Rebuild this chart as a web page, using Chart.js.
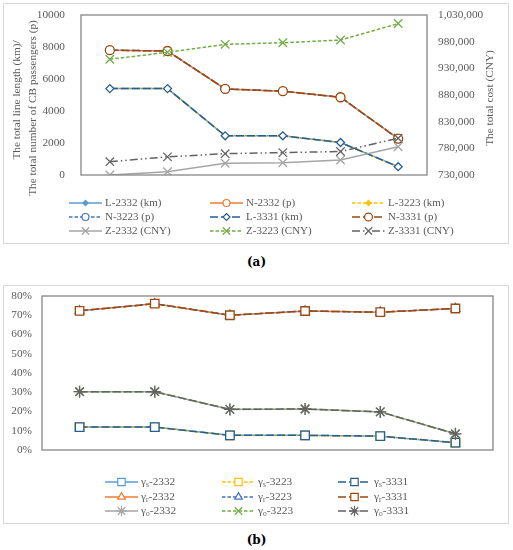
<!DOCTYPE html>
<html><head><meta charset="utf-8">
<script src="https://cdn.jsdelivr.net/npm/chart.js@4.4.0/dist/chart.umd.min.js"></script>
<style>
body{margin:0;background:#fff;width:513px;height:550px;position:relative;overflow:hidden;}
.panel{position:absolute;left:3px;width:506px;border:1px solid #d9d9d9;box-sizing:border-box;background:#fff;}
#pa{top:3px;height:241px;}
#pb{top:285px;height:239px;}
canvas{position:absolute;left:0;top:0;}
.cap{position:absolute;left:0;width:513px;text-align:center;font:bold 12px 'DejaVu Serif',serif;color:#000;}
</style></head><body>
<div class="panel" id="pa"><canvas id="ca" width="504" height="239"></canvas></div>
<div class="cap" style="top:255px">(a)</div>
<div class="panel" id="pb"><canvas id="cb" width="504" height="237"></canvas></div>
<div class="cap" style="top:533px">(b)</div>
<script>
// ---------- data (a) ----------
const categories = ['I &IV', 'IV', 'I &III', 'III', 'II', 'I'];
const L2332 = [5400, 5400, 2450, 2450, 2030, 520];
const L3223 = [5400, 5400, 2450, 2450, 2030, 520];
const L3331 = [5400, 5400, 2450, 2450, 2030, 520];
const N2332 = [7800, 7750, 5380, 5240, 4860, 2270];
const N3223 = [7800, 7750, 5380, 5240, 4860, 2270];
const N3331 = [7800, 7750, 5380, 5240, 4860, 2270];
const Z2332 = [730000, 736000, 752000, 753000, 758000, 783000];
const Z3223 = [947000, 960000, 975000, 978000, 983000, 1014000];
const Z3331 = [755000, 764000, 770000, 772000, 774000, 799000];
const leftTitle = ['The total line length (km)/', 'The total number of CB passengers (p)'];
const rightTitle = 'The total cost (CNY)';
// ---------- data (b) ----------
const gs2332 = [11.9, 11.9, 7.6, 7.6, 7.2, 3.8];
const gs3223 = [11.9, 11.9, 7.6, 7.6, 7.2, 3.8];
const gs3331 = [11.9, 11.9, 7.6, 7.6, 7.2, 3.8];
const gr2332 = [72.3, 76.0, 70.0, 72.2, 71.6, 73.5];
const gr3223 = [72.3, 76.0, 70.0, 72.2, 71.6, 73.5];
const gr3331 = [72.3, 76.0, 70.0, 72.2, 71.6, 73.5];
const go2332 = [30.3, 30.3, 21.1, 21.3, 19.8, 8.4];
const go3223 = [30.3, 30.3, 21.1, 21.3, 19.8, 8.4];
const go3331 = [30.3, 30.3, 21.1, 21.3, 19.8, 8.4];

const FONT = "'Liberation Serif', serif";
const TXT = '#595959';
const C = {lblue:'#5B9BD5', orange:'#ED7D31', gray:'#A5A5A5', yellow:'#FFC000', blue:'#4472C4',
  green:'#70AD47', dblue:'#255E91', brown:'#9E480E', dgray:'#636363'};
const DASH = {solid:[], dash:[3.5,2], long:[8,3], ldd:[8,3,1.5,3,1.5,3]};

function drawMarker(ctx, style, x, y, r, fill, stroke, lw){
  ctx.save(); ctx.setLineDash([]); ctx.lineWidth = lw; ctx.strokeStyle = stroke; ctx.fillStyle = fill;
  ctx.beginPath();
  if (style === 'circle'){ ctx.arc(x,y,r,0,Math.PI*2); ctx.fill(); ctx.stroke(); }
  else if (style === 'rect'){ const s=r*Math.SQRT1_2; ctx.rect(x-s,y-s,2*s,2*s); ctx.fill(); ctx.stroke(); }
  else if (style === 'rectRot'){ ctx.moveTo(x,y-r); ctx.lineTo(x+r,y); ctx.lineTo(x,y+r); ctx.lineTo(x-r,y); ctx.closePath(); ctx.fill(); ctx.stroke(); }
  else if (style === 'triangle'){ for(let k=0;k<3;k++){const a=k*2*Math.PI/3; const px=x+Math.sin(a)*r, py=y-Math.cos(a)*r; k?ctx.lineTo(px,py):ctx.moveTo(px,py);} ctx.closePath(); ctx.fill(); ctx.stroke(); }
  else if (style === 'crossRot' || style === 'star'){
    const s=r*Math.SQRT1_2; ctx.moveTo(x-s,y-s); ctx.lineTo(x+s,y+s); ctx.moveTo(x-s,y+s); ctx.lineTo(x+s,y-s);
    if (style==='star'){ ctx.moveTo(x,y-r); ctx.lineTo(x,y+r); ctx.moveTo(x-r,y); ctx.lineTo(x+r,y); }
    ctx.stroke();
  }
  ctx.restore();
}

function mk(label, data, color, dash, pstyle, prad, pfill, axis, idx, lw){
  return {label, data, borderColor: color, borderWidth: lw||1.5, borderDash: DASH[dash], fill:false, tension:0,
    pointStyle: pstyle, pointRadius: prad, pointHoverRadius: prad, pointBorderColor: color,
    pointBackgroundColor: pfill, pointBorderWidth: 1.3, yAxisID: axis, order: -idx,
    _legendRadius: prad};
}

function fixW(w){ return s => { s.width = w; s.paddingTop = 0; s.paddingBottom = 0; }; }
function fixH(h){ return s => { s.height = h; s.paddingLeft = 0; s.paddingRight = 0; }; }

const decor = {
  id: 'decor',
  afterDraw(chart, args, opts){
    const ctx = chart.ctx, a = chart.chartArea;
    ctx.save();
    ctx.strokeStyle = '#868686'; ctx.lineWidth = 1.3; ctx.setLineDash([]);
    ctx.strokeRect(a.left, a.top, a.right-a.left, a.bottom-a.top);
    ctx.restore();
    (opts.titles||[]).forEach(t => {
      ctx.save(); ctx.translate(t.x, t.y); ctx.rotate(-Math.PI/2);
      ctx.font = t.font; ctx.fillStyle = TXT; ctx.textAlign='center'; ctx.textBaseline='middle';
      ctx.fillText(t.text, 0, 0); ctx.restore();
    });
    const L = opts.legend; if (!L) return;
    chart.data.datasets.forEach((ds, i) => {
      const col = i % 3, row = Math.floor(i/3);
      const x0 = L.cols[col], y = L.rows[row];
      ctx.save();
      ctx.strokeStyle = ds.borderColor; ctx.lineWidth = 1.5; ctx.setLineDash(ds.borderDash||[]);
      ctx.beginPath(); ctx.moveTo(x0, y); ctx.lineTo(x0 + L.len, y); ctx.stroke();
      ctx.restore();
      drawMarker(ctx, ds.pointStyle, x0 + L.len/2, y, L.mr*(ds._legendRadius/4), ds.pointBackgroundColor, ds.pointBorderColor, 1.2);
      ctx.save(); ctx.fillStyle = TXT; ctx.textBaseline = 'middle'; ctx.textAlign='left';
      let tx = x0 + L.len + L.gap;
      const m = ds.label.match(/^(.*?)_(.)(.*)$/);
      ctx.font = L.font;
      if (m){
        ctx.fillText(m[1], tx, y); tx += ctx.measureText(m[1]).width;
        ctx.font = L.subFont; ctx.fillText(m[2], tx, y+3); tx += ctx.measureText(m[2]).width;
        ctx.font = L.font; ctx.fillText(m[3], tx, y);
      } else ctx.fillText(ds.label, tx, y);
      ctx.restore();
    });
  }
};

new Chart(document.getElementById('ca'), {
  type: 'line',
  data: { labels: categories, datasets: [
    mk('L-2332 (km)', L2332, C.lblue, 'solid', 'rectRot', 3, C.lblue, 'y', 0),
    mk('N-2332 (p)', N2332, C.orange, 'solid', 'circle', 4, '#fff', 'y', 1),
    mk('L-3223 (km)', L3223, C.yellow, 'dash', 'rectRot', 3, C.yellow, 'y', 2),
    mk('N-3223 (p)', N3223, C.blue, 'dash', 'circle', 4, '#fff', 'y', 3),
    mk('L-3331 (km)', L3331, C.dblue, 'long', 'rectRot', 4, '#fff', 'y', 4),
    mk('N-3331 (p)', N3331, C.brown, 'long', 'circle', 4.5, '#fff', 'y', 5),
    mk('Z-2332 (CNY)', Z2332, C.gray, 'solid', 'crossRot', 6, C.gray, 'y1', 6),
    mk('Z-3223 (CNY)', Z3223, C.green, 'dash', 'crossRot', 6, C.green, 'y1', 7),
    mk('Z-3331 (CNY)', Z3331, C.dgray, 'ldd', 'crossRot', 6, C.dgray, 'y1', 8)
  ]},
  options: {
    responsive: false, animation: false, devicePixelRatio: 1,
    layout: { padding: { top: 11, left: 0, right: 0, bottom: 52 } },
    plugins: { legend: { display: false }, tooltip: { enabled: false },
      decor: {
        titles: [
          {text: leftTitle[0], x: 13, y: 96, font: `11.3px ${FONT}`},
          {text: leftTitle[1], x: 29, y: 104, font: `11.3px ${FONT}`},
          {text: rightTitle, x: 486, y: 94, font: `11.3px ${FONT}`}
        ],
        legend: {cols: [65, 206, 348], rows: [199, 213, 227], len: 33, gap: 3, mr: 3.5,
          font: `11px ${FONT}`, subFont: `7.5px ${FONT}`}
      }
    },
    scales: {
      x: { offset: true, grid: { display: false, offset: true }, border: { display: false },
        ticks: { color: TXT, font: { family: FONT, size: 11.3 }, padding: 7, maxRotation: 0 },
        afterFit: fixH(16) },
      y: { position: 'left', min: 0, max: 10000, grid: { display: false }, border: { display: false },
        ticks: { stepSize: 2000, color: TXT, font: { family: FONT, size: 11.3 }, padding: 8, callback: v => String(v) },
        afterFit: fixW(77) },
      y1: { position: 'right', min: 730000, max: 1030000, grid: { display: false }, border: { display: false },
        ticks: { stepSize: 50000, color: TXT, font: { family: FONT, size: 11.3 }, padding: 3, callback: v => v.toLocaleString('en-US') },
        afterFit: fixW(81) }
    }
  },
  plugins: [decor]
});

new Chart(document.getElementById('cb'), {
  type: 'line',
  data: { labels: categories, datasets: [
    mk('γ_s-2332', gs2332, C.lblue, 'solid', 'rect', 6, '#fff', 'y', 0),
    mk('γ_s-3223', gs3223, C.yellow, 'dash', 'rect', 6, '#fff', 'y', 1),
    mk('γ_s-3331', gs3331, C.dblue, 'long', 'rect', 6, '#fff', 'y', 2),
    mk('γ_r-2332', gr2332, C.orange, 'solid', 'triangle', 5, '#fff', 'y', 3),
    mk('γ_r-3223', gr3223, C.blue, 'dash', 'triangle', 5, '#fff', 'y', 4),
    mk('γ_r-3331', gr3331, C.brown, 'long', 'rect', 6, '#fff', 'y', 5),
    mk('γ_o-2332', go2332, C.gray, 'solid', 'star', 6, C.gray, 'y', 6),
    mk('γ_o-3223', go3223, C.green, 'dash', 'crossRot', 6, C.green, 'y', 7),
    mk('γ_o-3331', go3331, C.dgray, 'long', 'star', 6, C.dgray, 'y', 8)
  ]},
  options: {
    responsive: false, animation: false, devicePixelRatio: 1,
    layout: { padding: { top: 10, left: 0, right: 15, bottom: 57 } },
    plugins: { legend: { display: false }, tooltip: { enabled: false },
      decor: {
        legend: {cols: [101, 218, 334], rows: [196, 211, 225], len: 33, gap: 3, mr: 3.5,
          font: `11.3px ${FONT}`, subFont: `7.5px ${FONT}`}
      }
    },
    scales: {
      x: { offset: true, grid: { display: false, offset: true }, border: { display: false },
        ticks: { color: TXT, font: { family: FONT, size: 11.3 }, padding: 9, maxRotation: 0 },
        afterFit: fixH(16) },
      y: { position: 'left', min: 0, max: 80, grid: { display: false }, border: { display: false },
        ticks: { stepSize: 10, color: TXT, font: { family: FONT, size: 11.3 }, padding: 2, callback: v => v + '%' },
        afterFit: fixW(38) }
    }
  },
  plugins: [decor]
});
</script>
</body></html>
